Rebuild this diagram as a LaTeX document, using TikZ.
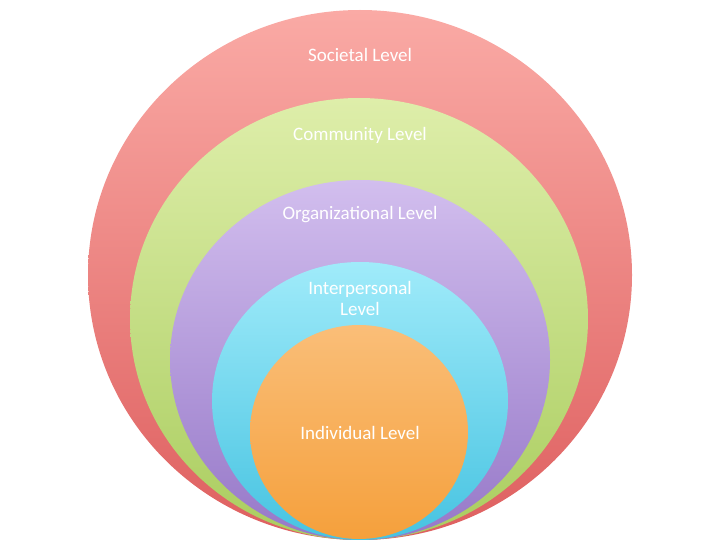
\documentclass[tikz,border=0pt]{standalone}
\usepackage{fontspec}
\setmainfont{Carlito}
\usetikzlibrary{shapes.geometric}
\begin{document}
\begin{tikzpicture}[x=1pt,y=-1pt,
  lvl/.style={ellipse,inner sep=0pt},
  lab/.style={text=white,font=\fontsize{19}{21}\selectfont,align=center}]
\useasboundingbox (0,0) rectangle (720,540);
\node[lvl,minimum width=544pt,minimum height=530pt,top color={rgb,255:red,250;green,170;blue,165},bottom color={rgb,255:red,222;green,95;blue,95}] (soc) at (360,275) {};
\node[lvl,minimum width=458pt,minimum height=442pt,top color={rgb,255:red,222;green,238;blue,170},bottom color={rgb,255:red,170;green,205;blue,95}] (com) at (359,319) {};
\node[lvl,minimum width=380pt,minimum height=360pt,top color={rgb,255:red,210;green,190;blue,238},bottom color={rgb,255:red,150;green,120;blue,200}] (org) at (360,360) {};
\node[lvl,minimum width=296pt,minimum height=278pt,top color={rgb,255:red,160;green,235;blue,250},bottom color={rgb,255:red,70;green,195;blue,225}] (int) at (360,401) {};
\node[lvl,minimum width=218pt,minimum height=214pt,top color={rgb,255:red,250;green,190;blue,120},bottom color={rgb,255:red,245;green,160;blue,60}] (ind) at (359,432) {};
\node[lab] (tsoc) at (360,55) {Societal Level};
\node[lab] (tcom) at (360,135) {Community Level};
\node[lab] (torg) at (360,215) {Organizational Level};
\node[lab] (tint) at (360,298) {Interpersonal\\Level};
\node[lab] (tind) at (360,433) {Individual Level};
\end{tikzpicture}
\end{document}
